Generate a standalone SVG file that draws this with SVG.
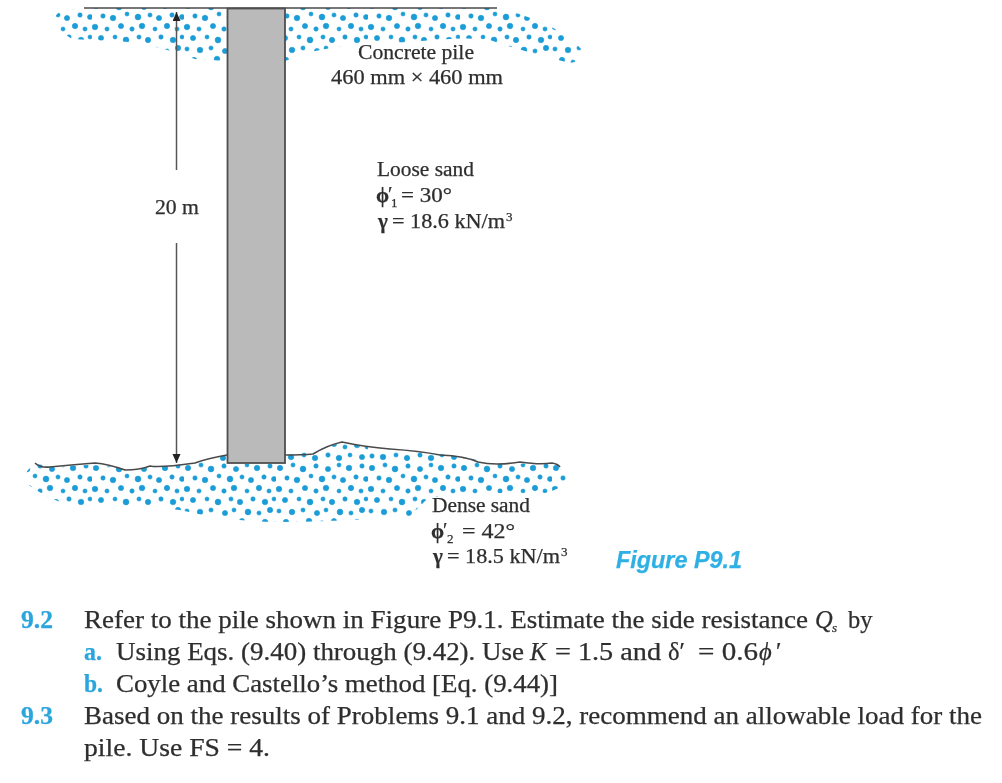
<svg xmlns="http://www.w3.org/2000/svg" width="1002" height="783" viewBox="0 0 1002 783">
<style>
text{font-family:"Liberation Serif","Times New Roman",serif;fill:#2e2e2e;stroke:#2e2e2e;stroke-width:.25}
.f{font-size:20px}
.b{font-size:24.500px}
.sub{font-size:13px}
.num{font-weight:bold;fill:#2ba6dc;stroke:#2ba6dc}
.i{font-style:italic}
.g{font-weight:bold;font-size:21px}
.fig{font-family:"Liberation Sans",Arial,sans-serif;font-style:italic;font-weight:bold;font-size:23px;fill:#2fb0e4;stroke:#2fb0e4}
.d{fill:#1a9cd6;stroke:#1a9cd6;stroke-width:.6}
.line{fill:none;stroke:#4a4a4a;stroke-width:1.6}
</style>
<defs>
<filter id="soft" filterUnits="userSpaceOnUse" x="0" y="0" width="1002" height="783"><feGaussianBlur stdDeviation="0.75"/></filter>
<filter id="softT" filterUnits="userSpaceOnUse" x="0" y="0" width="1002" height="783"><feGaussianBlur stdDeviation="0.45"/></filter>
<marker id="ah" markerWidth="10" markerHeight="10" refX="9" refY="4" orient="auto" markerUnits="userSpaceOnUse"><path d="M0 0L9 4L0 8Z" fill="#222"/></marker>
<pattern id="p1" width="92" height="77" patternUnits="userSpaceOnUse">
<g class="d">
<circle cx="4" cy="6" r="2.7"/><circle cx="17" cy="3" r="2.1"/><circle cx="27" cy="7" r="2.9"/><circle cx="40" cy="4" r="2.2"/><circle cx="52" cy="7" r="2.6"/><circle cx="63" cy="3" r="2"/><circle cx="73" cy="6" r="2.8"/><circle cx="86" cy="4" r="2.2"/>
<circle cx="11" cy="16" r="2.2"/><circle cx="21" cy="18" r="2.8"/><circle cx="35" cy="14" r="2"/><circle cx="46" cy="17" r="2.9"/><circle cx="58" cy="15" r="2.1"/><circle cx="67" cy="18" r="2.6"/><circle cx="80" cy="15" r="2.2"/><circle cx="90" cy="17" r="2.5"/>
<circle cx="3" cy="27" r="2.8"/><circle cx="15" cy="29" r="2.1"/><circle cx="29" cy="26" r="2.6"/><circle cx="40" cy="29" r="2.2"/><circle cx="50" cy="26" r="2.8"/><circle cx="63" cy="29" r="2"/><circle cx="75" cy="26" r="2.7"/><circle cx="85" cy="29" r="2.1"/>
<circle cx="9" cy="38" r="2.6"/><circle cx="23" cy="37" r="2"/><circle cx="34" cy="40" r="2.9"/><circle cx="47" cy="37" r="2.1"/><circle cx="56" cy="40" r="2.7"/><circle cx="69" cy="37" r="2.2"/><circle cx="81" cy="40" r="2.8"/><circle cx="90" cy="37" r="2"/>
<circle cx="3" cy="49" r="2.1"/><circle cx="16" cy="50" r="2.8"/><circle cx="27" cy="48" r="2.1"/><circle cx="41" cy="51" r="2.6"/><circle cx="50" cy="48" r="2"/><circle cx="64" cy="50" r="2.9"/><circle cx="75" cy="51" r="2.1"/><circle cx="86" cy="48" r="2.7"/>
<circle cx="10" cy="60" r="2.7"/><circle cx="21" cy="62" r="2"/><circle cx="33" cy="59" r="2.8"/><circle cx="46" cy="61" r="2.2"/><circle cx="58" cy="59" r="2.6"/><circle cx="69" cy="62" r="2.1"/><circle cx="81" cy="60" r="2.8"/><circle cx="91" cy="62" r="2"/>
<circle cx="4" cy="71" r="2.2"/><circle cx="15" cy="72" r="2.8"/><circle cx="28" cy="70" r="2.1"/><circle cx="39" cy="73" r="2.7"/><circle cx="52" cy="70" r="2.2"/><circle cx="63" cy="73" r="2.8"/><circle cx="74" cy="70" r="2"/><circle cx="86" cy="72" r="2.6"/>
</g>
</pattern>
</defs>

<g id="soil" filter="url(#soft)">
<path id="soil-top" fill="url(#p1)" d="M84 8L62 10Q50 18 54 27L72 39Q110 41 130 42Q160 46 195 59L227 61H285L310 52Q350 43 410 42Q470 36 490 40Q530 54 570 63Q586 60 582 50Q560 24 498 8Z"/>
<path id="soil-bottom" fill="url(#p1)" d="M35 464Q18 475 30 486Q50 500 70 505Q130 505 180 510Q220 520 270 522Q340 522 410 516L428 498Q480 491 540 494Q572 488 566 470L555 463Q520 464 490 463Q460 455 420 452Q370 448 342 442Q315 452 285 455V464H227V455Q205 458 195 463Q150 468 125 470Q100 462 60 467Z"/>
</g>

<g id="ground-lines" filter="url(#softT)">
<path class="line" d="M84 8H497"/>
<path class="line" d="M35 463Q40 468 50 467Q70 465 95 463Q108 464 125 470Q140 470 150 466Q160 468 195 463Q205 459 227 455"/>
<path class="line" d="M285 455Q302 455 313 454Q328 445 342 442Q365 447 390 449Q420 451 440 455Q465 456 478 462Q495 466 520 462Q540 465 552 463Q558 464 560 467"/>
</g>

<g id="pile" filter="url(#softT)">
<rect x="227.500" y="8.500" width="57.500" height="454.500" fill="#bababa" stroke="#4f4f4f" stroke-width="1.800"/>
</g>

<g id="connectors" filter="url(#softT)">
<path id="dim-up" d="M176.500 170V12" fill="none" stroke="#555" stroke-width="1.500" marker-end="url(#ah)"/>
<path id="dim-down" d="M176.500 243V463" fill="none" stroke="#555" stroke-width="1.500" marker-end="url(#ah)"/>
</g>

<g id="labels" filter="url(#softT)">
<text class="f" x="155" y="214" textLength="44" lengthAdjust="spacingAndGlyphs">20 m</text>
<text class="f" x="358" y="59" textLength="116" lengthAdjust="spacingAndGlyphs">Concrete pile</text>
<text class="f" x="331" y="84" textLength="172" lengthAdjust="spacingAndGlyphs">460 mm × 460 mm</text>

<text class="f" x="377" y="176" textLength="97" lengthAdjust="spacingAndGlyphs">Loose sand</text>
<text class="f"><tspan class="g" x="376" y="202">ϕ</tspan><tspan x="388" y="201">′</tspan><tspan class="sub" x="391" y="207">1</tspan></text>
<text class="f" x="401" y="202" textLength="51" lengthAdjust="spacingAndGlyphs">= 30°</text>
<text class="f g" x="378" y="228">γ</text>
<text class="f" x="392" y="228" textLength="113" lengthAdjust="spacingAndGlyphs">= 18.6 kN/m</text>
<text class="sub" x="506" y="221">3</text>

<text class="f" x="432" y="512" textLength="98" lengthAdjust="spacingAndGlyphs">Dense sand</text>
<text class="f"><tspan class="g" x="431" y="538">ϕ</tspan><tspan x="443" y="537">′</tspan><tspan class="sub" x="447" y="543">2</tspan></text>
<text class="f" x="462" y="538" textLength="53" lengthAdjust="spacingAndGlyphs">= 42°</text>
<text class="f g" x="433" y="563">γ</text>
<text class="f" x="447" y="563" textLength="113" lengthAdjust="spacingAndGlyphs">= 18.5 kN/m</text>
<text class="sub" x="561" y="556">3</text>

<text class="fig" x="616" y="568" textLength="126" lengthAdjust="spacingAndGlyphs">Figure P9.1</text>

<text class="b num" x="21" y="628" textLength="32" lengthAdjust="spacingAndGlyphs">9.2</text>
<text class="b" x="84" y="628" textLength="724" lengthAdjust="spacingAndGlyphs">Refer to the pile shown in Figure P9.1. Estimate the side resistance</text>
<text class="b"><tspan class="i" x="815" y="628">Q</tspan><tspan class="sub i" x="832" y="632">s</tspan><tspan x="848" y="628">by</tspan></text>

<text class="b num" x="84" y="660" textLength="18" lengthAdjust="spacingAndGlyphs">a.</text>
<text class="b" x="116" y="660" textLength="408" lengthAdjust="spacingAndGlyphs">Using Eqs. (9.40) through (9.42). Use</text>
<text class="b i" x="530" y="660">K</text>
<text class="b" x="555" y="660" textLength="106" lengthAdjust="spacingAndGlyphs">= 1.5 and</text>
<text class="b" x="668" y="660">δ′</text>
<text class="b" x="698" y="660" textLength="60" lengthAdjust="spacingAndGlyphs">= 0.6</text>
<text class="b i" x="759" y="660">ϕ</text><text class="b" x="776" y="660">′</text>

<text class="b num" x="84" y="692" textLength="19" lengthAdjust="spacingAndGlyphs">b.</text>
<text class="b" x="116" y="692" textLength="442" lengthAdjust="spacingAndGlyphs">Coyle and Castello’s method [Eq. (9.44)]</text>

<text class="b num" x="21" y="724" textLength="32" lengthAdjust="spacingAndGlyphs">9.3</text>
<text class="b" x="84" y="724" textLength="898" lengthAdjust="spacingAndGlyphs">Based on the results of Problems 9.1 and 9.2, recommend an allowable load for the</text>

<text class="b" x="84" y="756" textLength="186" lengthAdjust="spacingAndGlyphs">pile. Use FS = 4.</text>
</g>
</svg>
